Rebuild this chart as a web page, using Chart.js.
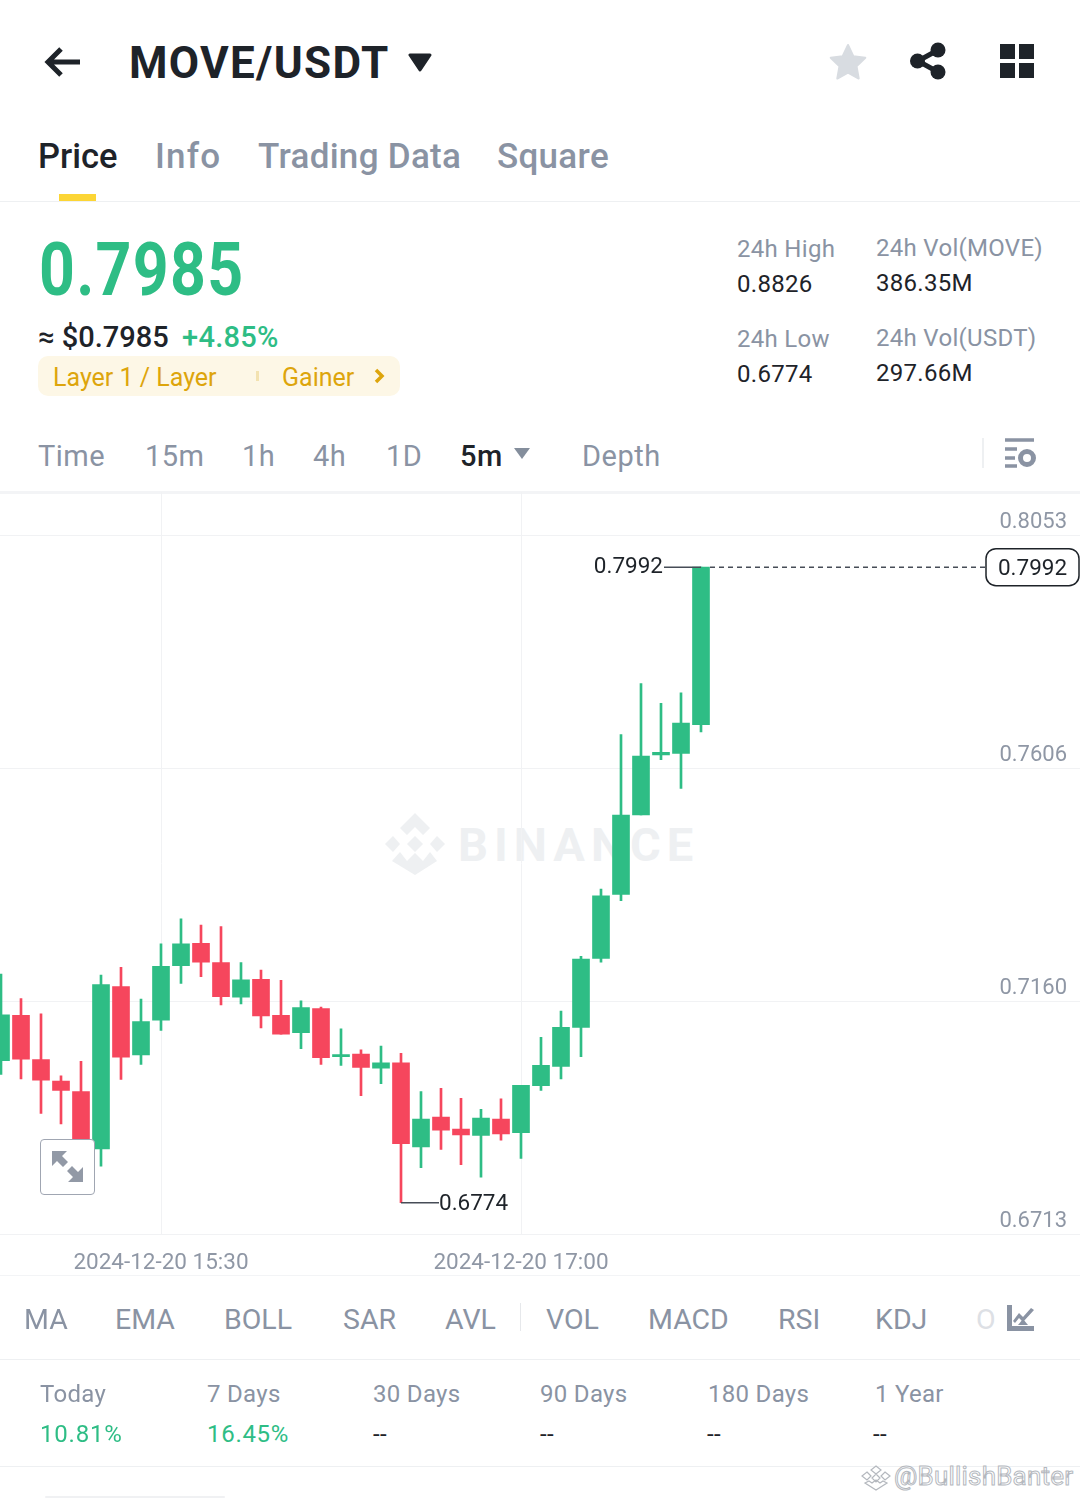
<!DOCTYPE html>
<html lang="en">
<head>
  <meta charset="UTF-8">
  <title>MOVE/USDT</title>
  <script src="https://cdn.jsdelivr.net/npm/chart.js"></script>
  <style>
    html, body { margin: 0; background: #fff; }
    #page { position: relative; width: 1080px; height: 1498px; overflow: hidden; font-family: Roboto, sans-serif; color: #1E2329; }
    .t { position: absolute; white-space: nowrap; transform: translateY(-50%); line-height: 1; }
    .gray { color: #8A93A3; }
    .green { color: #2EBD85; }
    .gold { color: #DDA50C; }
    .stat { font-size: 24px; letter-spacing: .3px; }
    .tf { font-size: 29px; letter-spacing: .5px; top: 456px; }
    .ind { font-size: 28.500px; top: 1320px; }
    .per { font-size: 24px; letter-spacing: .3px; }
    .tab { font-size: 35px; font-weight: 500; letter-spacing: .3px; top: 156px; }
    .hr { position: absolute; left: 0; width: 1080px; height: 1px; background: #EEF0F2; }
    svg { position: absolute; }
    #chart { position: absolute; left: -9px; top: 492px; }
  </style>
</head>
<body>
<div id="page">
  <svg style="left:44px;top:44px" width="38" height="36" viewBox="0 0 38 36"><path d="M36 18H5M17 5L4 18l13 13" fill="none" stroke="#1E2329" stroke-width="5"/></svg>
  <span class="t" style="left:129px;top:63px;font-size:44px;font-weight:700;letter-spacing:1.3px">MOVE/USDT</span>
  <svg style="left:407px;top:52px" width="26" height="20" viewBox="0 0 26 20"><path d="M3 3h20L13 18z" fill="#1E2329" stroke="#1E2329" stroke-width="3" stroke-linejoin="round"/></svg>
  <svg style="left:828px;top:42px" width="40" height="40" viewBox="0 0 40 40"><path d="M20 3l5.3 11.2 12 1.6-8.8 8.5 2.2 12.2L20 30.6 9.3 36.500l2.2-12.200-8.800-8.500 12-1.600z" fill="#D8DCE1" stroke="#D8DCE1" stroke-width="2" stroke-linejoin="round"/></svg>
  <svg style="left:908px;top:40px" width="40" height="42" viewBox="0 0 40 42"><path d="M30 10L10 21l20 11" fill="none" stroke="#1E2329" stroke-width="5"/><circle cx="30" cy="10" r="7.500" fill="#1E2329"/><circle cx="9.500" cy="21" r="7.500" fill="#1E2329"/><circle cx="30" cy="32" r="7.500" fill="#1E2329"/></svg>
  <svg style="left:1000px;top:44px" width="34" height="34" viewBox="0 0 34 34" fill="#1E2329"><rect width="15" height="15"/><rect x="19" width="15" height="15"/><rect y="19" width="15" height="15"/><rect x="19" y="19" width="15" height="15"/></svg>

  <span class="t tab" style="left:38px;letter-spacing:0;font-size:34.500px">Price</span>
  <span class="t tab gray" style="left:155px;letter-spacing:1.200px">Info</span>
  <span class="t tab gray" style="left:258px">Trading Data</span>
  <span class="t tab gray" style="left:497px">Square</span>
  <div style="position:absolute;left:59px;top:194px;width:37px;height:7px;background:#FCD535"></div>
  <div class="hr" style="top:201px"></div>

  <span class="t green" style="left:39px;top:269px;font-size:75px;font-weight:700;letter-spacing:1.500px;transform:translateY(-50%) scaleX(.835);transform-origin:left center">0.7985</span>
  <span class="t" style="left:38px;top:337px;font-size:29px;font-weight:500">≈ $0.7985</span>
  <span class="t green" style="left:182px;top:337px;font-size:29px;font-weight:500;letter-spacing:.3px">+4.85%</span>
  <div style="position:absolute;left:38px;top:356px;width:362px;height:40px;background:#FDF7E6;border-radius:10px"></div>
  <span class="t gold" style="left:53px;top:377px;font-size:25px">Layer 1 / Layer</span>
  <div style="position:absolute;left:256px;top:371px;width:3px;height:10px;background:#F3E2B0"></div>
  <span class="t gold" style="left:282px;top:377px;font-size:25px">Gainer</span>
  <svg style="left:374px;top:368px" width="12" height="16" viewBox="0 0 12 16"><path d="M2 2l6 6-6 6" fill="none" stroke="#DDA50C" stroke-width="3.500"/></svg>

  <span class="t stat gray" style="left:737px;top:249px">24h High</span>
  <span class="t stat" style="left:737px;top:284px">0.8826</span>
  <span class="t stat gray" style="left:737px;top:339px">24h Low</span>
  <span class="t stat" style="left:737px;top:374px">0.6774</span>
  <span class="t stat gray" style="left:876px;top:248px">24h Vol(MOVE)</span>
  <span class="t stat" style="left:876px;top:283px">386.35M</span>
  <span class="t stat gray" style="left:876px;top:338px">24h Vol(USDT)</span>
  <span class="t stat" style="left:876px;top:373px">297.66M</span>

  <span class="t tf gray" style="left:38px">Time</span>
  <span class="t tf gray" style="left:145px">15m</span>
  <span class="t tf gray" style="left:242px">1h</span>
  <span class="t tf gray" style="left:313px">4h</span>
  <span class="t tf gray" style="left:386px">1D</span>
  <span class="t tf" style="left:460px;font-weight:500">5m</span>
  <svg style="left:513px;top:446px" width="18" height="14" viewBox="0 0 18 14"><path d="M1 2h16l-8 11z" fill="#848E9C"/></svg>
  <span class="t tf gray" style="left:582px">Depth</span>
  <div style="position:absolute;left:982px;top:438px;width:2px;height:30px;background:#EEF0F2"></div>
  <svg style="left:1004px;top:437px" width="32" height="32" viewBox="0 0 32 32"><path d="M1 3h29M1 12h12M1 21h10M1 29h12" stroke="#8A93A3" stroke-width="3.500" fill="none"/><circle cx="23" cy="21" r="6.500" fill="none" stroke="#8A93A3" stroke-width="5"/></svg>

  <div style="position:absolute;left:0;top:491px;width:1080px;height:3px;background:#F3F4F6"></div>
  <svg style="left:384px;top:812px" width="62" height="64" viewBox="0 0 62 64" fill="#EEF0F2"><path d="M31 1l15 15-7 7-8-8-8 8-7-7zM9 24l7 8-7 8-8-8zM53 24l8 8-8 8-7-8zM31 24l8 8-8 8-8-8zM16 40l7 9 8-8 8 8 7-9 7 9-22 14L8 49z"/></svg>
  <span class="t" style="left:458px;top:844px;font-size:47px;font-weight:700;letter-spacing:6px;color:#EEF0F2">BINANCE</span>

  <canvas id="chart" width="1100" height="783"></canvas>

  <div style="position:absolute;left:40px;top:1139px;width:53px;height:54px;background:#fff;border:1.500px solid #A0A6B2;border-radius:4px"></div>
  <svg style="left:51px;top:1150px" width="33" height="33" viewBox="0 0 33 33" fill="#9299A6"><path d="M1 1h15l-5 5 6 6-5 5-6-6-5 5zM32 32H17l5-5-6-6 5-5 6 6 5-5z"/></svg>

  <div class="hr" style="top:1275px;background:#F3F4F6"></div>
  <span class="t ind gray" style="left:24px">MA</span>
  <span class="t ind gray" style="left:115px">EMA</span>
  <span class="t ind gray" style="left:224px">BOLL</span>
  <span class="t ind gray" style="left:343px">SAR</span>
  <span class="t ind gray" style="left:445px">AVL</span>
  <div style="position:absolute;left:520px;top:1303px;width:1px;height:28px;background:#E6E8EB"></div>
  <span class="t ind gray" style="left:546px">VOL</span>
  <span class="t ind gray" style="left:648px">MACD</span>
  <span class="t ind gray" style="left:778px">RSI</span>
  <span class="t ind gray" style="left:875px">KDJ</span>
  <span class="t ind" style="left:976px;color:#DDE0E5">O</span>
  <svg style="left:1006px;top:1304px" width="28" height="28" viewBox="0 0 28 28" fill="#8A93A3"><path d="M1 1h5v21h22v5H1z"/><path d="M7 17l6-8 4 4 8-9 3 2-11 12-4-4-4 5z"/><path d="M12 21l5-6 5 6z"/></svg>
  <div class="hr" style="top:1359px"></div>

  <span class="t per gray" style="left:40px;top:1394px">Today</span>
  <span class="t per gray" style="left:207px;top:1394px">7 Days</span>
  <span class="t per gray" style="left:373px;top:1394px">30 Days</span>
  <span class="t per gray" style="left:540px;top:1394px">90 Days</span>
  <span class="t per gray" style="left:708px;top:1394px">180 Days</span>
  <span class="t per gray" style="left:875px;top:1394px">1 Year</span>
  <span class="t per green" style="left:40px;top:1434px;letter-spacing:.8px">10.81%</span>
  <span class="t per green" style="left:207px;top:1434px;letter-spacing:.7px">16.45%</span>
  <span class="t per" style="left:373px;top:1434px">--</span>
  <span class="t per" style="left:540px;top:1434px">--</span>
  <span class="t per" style="left:707px;top:1434px">--</span>
  <span class="t per" style="left:873px;top:1434px">--</span>
  <div class="hr" style="top:1466px"></div>
  <div style="position:absolute;left:45px;top:1496px;width:180px;height:2px;background:#F0F1F3;border-radius:2px"></div>

  <svg style="left:861px;top:1465px" width="30" height="26" viewBox="0 0 30 26" fill="none" stroke="#B4B8BE" stroke-width="1.200"><path d="M15 1l5 4-5 4-5-4zM6 7l4 4-4 4-5-4zM24 7l5 4-5 4-4-4zM15 9l4 4-4 4-4-4zM8 16l3 2 4-3 4 3 3-2 4 2-11 7L4 18z"/></svg>
  <span class="t" style="left:894px;top:1476px;font-size:26px;color:#fff;-webkit-text-stroke:1px #B4B8BE;letter-spacing:.2px">@BullishBanter</span>
</div>

<script>
  // 5m candles. The slots after 17:45 stay empty on purpose
  const times = [
    "14:50","14:55","15:00","15:05","15:10","15:15","15:20","15:25","15:30","15:35","15:40",
    "15:45","15:50","15:55","16:00","16:05","16:10","16:15","16:20","16:25","16:30","16:35",
    "16:40","16:45","16:50","16:55","17:00","17:05","17:10","17:15","17:20","17:25","17:30",
    "17:35","17:40","17:45","17:50","17:55","18:00","18:05","18:10","18:15","18:20","18:25",
    "18:30","18:35","18:40","18:45","18:50","18:55","19:00","19:05","19:10","19:15","19:20"
  ];
  const opens = [
    .7046,.7133,.7048,.7007,.6987,.6877,.7188,.7057,.7124,.7228,.7271,.7234,
    .7168,.7202,.7133,.7100,.7146,.7054,.7059,.7032,.7042,.6881,.6938,.6915,
    .6903,.6934,.6908,.6998,.7035,.7110,.7242,.7365,.7517,.7632,.7635,.7690
  ];
  const closes = [
    .7134,.7049,.7009,.6989,.6885,.7192,.7053,.7121,.7227,.7270,.7235,.7169,
    .7201,.7132,.7097,.7148,.7052,.7058,.7033,.7042,.6887,.6934,.6913,.6904,
    .6936,.6906,.6999,.7037,.7110,.7241,.7362,.7517,.7630,.7637,.7693,.7992
  ];
  const highs = [
    .7212,.7165,.7136,.7017,.7045,.7210,.7225,.7164,.7270,.7318,.7306,.7303,
    .7234,.7220,.7200,.7161,.7149,.7107,.7067,.7074,.7060,.6987,.6993,.6974,
    .6953,.6973,.6999,.7091,.7141,.7246,.7375,.7671,.7769,.7731,.7751,.7992
  ];
  const lows = [
    .7020,.7011,.6945,.6925,.6865,.6844,.7010,.7039,.7104,.7194,.7207,.7153,
    .7155,.7109,.7097,.7069,.7039,.7037,.6979,.7002,.6774,.6841,.6876,.6847,
    .6823,.6894,.6859,.6989,.7011,.7054,.7235,.7353,.7517,.7623,.7568,.7676
  ];
  const priceTicks = [0.8053, 0.7606, 0.7160, 0.6713];
  const dateTicks = ["15:30", "17:00"];
  const tickDate = "2024-12-20";
  const highLabel = "0.7992";
  const lowLabel = "0.6774";
  const lastLabel = "0.7992";

  const UP = "#2EBD85", DOWN = "#F6465D", GRID = "#F1F2F4", AXIS = "#8F97A5";
  const candleColor = ctx => closes[ctx.dataIndex] >= opens[ctx.dataIndex] ? UP : DOWN;

  // the plot has to run edge to edge, so drop the margins the scales ask for
  const noMargins = s => {
    s.paddingTop = s.paddingBottom = s.paddingLeft = s.paddingRight = 0;
  };

  // high / low callouts and the last price line
  const callouts = {
    id: "callouts",
    afterDatasetsDraw(chart) {
      const { ctx, scales: { x, y } } = chart;
      const hi = highs.indexOf(Math.max(...highs));
      const lo = lows.indexOf(Math.min(...lows));
      const hx = x.getPixelForValue(hi), hy = y.getPixelForValue(highs[hi]);
      const lx = x.getPixelForValue(lo), ly = y.getPixelForValue(lows[lo]);
      const pillRight = chart.width - 12, pillLeft = pillRight - 93;

      ctx.save();
      ctx.font = "22.5px Roboto";
      ctx.fillStyle = "#1E2329";
      ctx.strokeStyle = "#474D57";
      ctx.lineWidth = 1.5;
      ctx.textBaseline = "middle";

      ctx.beginPath();
      ctx.moveTo(hx - 37, hy); ctx.lineTo(hx, hy);
      ctx.moveTo(lx, ly); ctx.lineTo(lx + 38, ly);
      ctx.stroke();
      ctx.textAlign = "right";
      ctx.fillText(highLabel, hx - 38, hy);
      ctx.textAlign = "left";
      ctx.fillText(lowLabel, lx + 38, ly + 2);

      ctx.setLineDash([5, 4]);
      ctx.beginPath();
      ctx.moveTo(hx + 9, hy); ctx.lineTo(pillLeft, hy);
      ctx.stroke();
      ctx.setLineDash([]);

      ctx.beginPath();
      ctx.roundRect(pillLeft, hy - 18.5, pillRight - pillLeft, 37, 10);
      ctx.fillStyle = "#fff";
      ctx.fill();
      ctx.strokeStyle = "#1E2329";
      ctx.stroke();
      ctx.fillStyle = "#1E2329";
      ctx.textAlign = "center";
      ctx.fillText(lastLabel, (pillLeft + pillRight) / 2, hy + 2.5);
      ctx.restore();
    }
  };

  new Chart(document.getElementById("chart"), {
    type: "bar",
    data: {
      labels: times,
      datasets: [
        {
          // wicks go first so the bodies sit on top
          data: lows.map((l, i) => [l, highs[i]]),
          backgroundColor: candleColor,
          barThickness: 2,
          grouped: false,
          order: 2
        },
        {
          data: opens.map((o, i) => [o, closes[i]]),
          backgroundColor: candleColor,
          barThickness: 17,
          grouped: false,
          order: 1
        }
      ]
    },
    options: {
      responsive: false,
      animation: false,
      devicePixelRatio: 1,
      layout: { padding: 0 },
      plugins: { legend: { display: false }, tooltip: { enabled: false } },
      scales: {
        x: {
          offset: true,
          afterFit: s => { s.height = 40.5; noMargins(s); },
          border: { display: false },
          grid: {
            offset: false,
            drawTicks: false,
            color: ctx => dateTicks.includes(times[ctx.index]) ? GRID : "transparent"
          },
          ticks: {
            autoSkip: false,
            maxRotation: 0,
            padding: 15,
            color: AXIS,
            font: { family: "Roboto", size: 22.5 },
            callback(v, i) { return dateTicks.includes(times[i]) ? tickDate + " " + times[i] : ""; }
          }
        },
        y: {
          position: "right",
          min: 0.6713,
          max: 0.8136,
          afterBuildTicks: s => { s.ticks = priceTicks.map(value => ({ value })); },
          afterFit: s => { s.width = 0; noMargins(s); },
          border: { display: false },
          grid: { drawTicks: false, color: GRID },
          ticks: {
            mirror: true,
            padding: -24,
            labelOffset: -13,
            color: AXIS,
            font: { family: "Roboto", size: 22 },
            callback: v => v.toFixed(4)
          }
        }
      }
    },
    plugins: [callouts]
  });
</script>
</body>
</html>
